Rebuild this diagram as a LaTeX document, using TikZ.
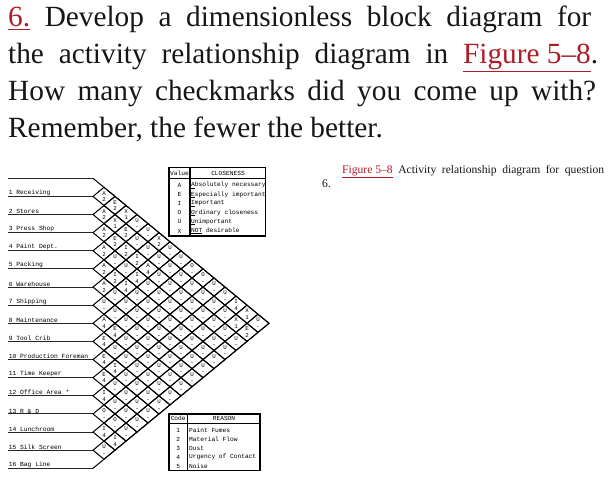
\documentclass[tikz,border=0pt]{standalone}
\usepackage{fontspec}
\setmainfont{Liberation Serif}
\setmonofont{Liberation Mono}
\usetikzlibrary{positioning}

\definecolor{linkred}{RGB}{172,28,36}
\definecolor{inkblack}{RGB}{22,22,22}

% geometry of the chart (1 unit = 1 px)
\def\xleft{93}     % left vertices of the diamonds
\def\ytop{178.3}   % top line of the chart
\def\dx{11}        % half width of a diamond
\def\dy{9.0625}    % half height of a diamond

% one diamond: row, column, closeness, reason
\newcommand{\reldiamond}[4]{%
  \pgfmathsetmacro\cx{\xleft+\dx*#2}
  \pgfmathsetmacro\cy{\ytop+\dy*(2*#1+#2-1)}
  \draw[grid] (\cx-\dx,\cy) -- (\cx,\cy-\dy) -- (\cx+\dx,\cy) -- (\cx,\cy+\dy) -- cycle;
  \node[rel] (rel-#1-#2) at (\cx,\cy) {#3\\#4};
}

\begin{document}
\begin{tikzpicture}[x=1pt,y=-1pt,
  title/.style={anchor=base west, inner sep=0pt, text=inkblack, font=\fontsize{29.3}{35}\selectfont},
  grid/.style={draw=black, line width=1pt, line join=miter},
  deptline/.style={draw=black!85, line width=0.9pt},
  dept/.style={anchor=south west, inner sep=0.6pt, font=\ttfamily\fontsize{6.3}{6.3}\selectfont},
  rel/.style={align=center, inner sep=0pt, font=\ttfamily\fontsize{5.8}{6.6}\selectfont},
  legend/.style={draw=black, line width=1.1pt},
  legtext/.style={inner sep=0pt, font=\ttfamily\fontsize{6.2}{6.2}\selectfont},
  caption/.style={anchor=base west, inner sep=0pt, text=inkblack, font=\fontsize{11.6}{13}\selectfont},
]
\useasboundingbox (0,0) rectangle (609,476);

% --- question text ---
\node[title] (q1) at (8,27) {\makebox[583pt][s]{\textcolor{linkred}{\underline{6.}} Develop a dimensionless block diagram for}};
\node[title] (q2) at (8,63.5) {\makebox[590pt][s]{the activity relationship diagram in \textcolor{linkred}{\underline{Figure 5–8}}.}};
\node[title] (q3) at (8,100) {\makebox[588pt][s]{How many checkmarks did you come up with?}};
\node[title] (q4) at (8,137) {Remember, the fewer the better.};

% caption on the right
\node[caption] (cap) at (342,173)
  {\makebox[262pt][s]{\textcolor{linkred}{\underline{Figure 5–8}} Activity relationship diagram for question}};
\node[caption] (capnum) at (322,187) {6.};

% --- department lines and names ---
\foreach \k in {0,...,16} {
  \coordinate (l\k) at (8,\ytop+2*\dy*\k);
  \coordinate (b\k) at (\xleft,\ytop+2*\dy*\k);
  \draw[deptline] (l\k) -- (b\k);
}
\foreach \k/\name in {1/1 Receiving, 2/2 Stores, 3/3 Press Shop, 4/4 Paint Dept.,
    5/5 Packing, 6/6 Warehouse, 7/7 Shipping, 8/8 Maintenance, 9/9 Tool Crib,
    10/10 Production Foreman, 11/11 Time Keeper, 12/12 Office Area *, 13/13 R \& D,
    14/14 Lunchroom, 15/15 Silk Screen, 16/16 Bag Line}
  \node[dept] (dept\k) at (l\k) {\name};

% --- outline of the triangle ---
\coordinate (tip) at (\xleft+16*\dx,\ytop+16*\dy);
\draw[grid] (b0) -- (tip) -- (b16);

% --- relationship diamonds, one row per department ---
\foreach [count=\d] \l/\r in {A/2,E/2,X/1,U/-,U/-,X/2,U/-,U/-,O/-,O/-,U/-,U/-,I/4,X/1,U/-} {\reldiamond{1}{\d}{\l}{\r}}
\foreach [count=\d] \l/\r in {A/2,X/1,E/2,U/-,U/-,U/-,U/-,U/-,U/-,U/-,U/-,U/-,X/1,E/2} {\reldiamond{2}{\d}{\l}{\r}}
\foreach [count=\d] \l/\r in {A/2,E/2,I/2,I/2,A/4,U/-,U/-,U/-,U/-,U/-,U/-,U/-,U/-} {\reldiamond{3}{\d}{\l}{\r}}
\foreach [count=\d] \l/\r in {A/2,U/-,U/-,I/4,U/-,U/-,U/-,U/-,U/-,U/-,U/-,U/-} {\reldiamond{4}{\d}{\l}{\r}}
\foreach [count=\d] \l/\r in {A/2,I/2,I/4,U/-,U/-,U/-,U/-,U/-,U/-,U/-,U/-} {\reldiamond{5}{\d}{\l}{\r}}
\foreach [count=\d] \l/\r in {A/2,U/-,U/-,U/-,U/-,U/-,U/-,U/-,U/-,U/-} {\reldiamond{6}{\d}{\l}{\r}}
\foreach [count=\d] \l/\r in {U/-,U/-,U/-,U/-,U/-,U/-,U/-,U/-,U/-} {\reldiamond{7}{\d}{\l}{\r}}
\foreach [count=\d] \l/\r in {A/4,E/4,U/-,U/-,U/-,U/-,U/-,U/-} {\reldiamond{8}{\d}{\l}{\r}}
\foreach [count=\d] \l/\r in {E/4,U/-,U/-,U/-,U/-,U/-,U/-} {\reldiamond{9}{\d}{\l}{\r}}
\foreach [count=\d] \l/\r in {E/4,I/4,U/-,U/-,U/-,U/-} {\reldiamond{10}{\d}{\l}{\r}}
\foreach [count=\d] \l/\r in {E/4,U/-,U/-,U/-,U/-} {\reldiamond{11}{\d}{\l}{\r}}
\foreach [count=\d] \l/\r in {I/4,U/-,U/-,U/-} {\reldiamond{12}{\d}{\l}{\r}}
\foreach [count=\d] \l/\r in {O/-,O/-,U/-} {\reldiamond{13}{\d}{\l}{\r}}
\foreach [count=\d] \l/\r in {I/4,I/4} {\reldiamond{14}{\d}{\l}{\r}}
\foreach [count=\d] \l/\r in {U/-} {\reldiamond{15}{\d}{\l}{\r}}

% --- closeness legend ---
\draw[legend] (169,167.3) rectangle (265.7,236);
\draw[legend] (169,178.3) -- (265.7,178.3);
\draw[legend] (190,167.3) -- (190,236);
\node[legtext] (valhead) at (179.5,173) {Value};
\node[legtext] (closehead) at (228,173) {CLOSENESS};
\foreach \k/\v/\txt in {0/A/\underline{A}bsolutely necessary, 1/E/\underline{E}specially important,
    2/I/\underline{I}mportant, 3/O/\underline{O}rdinary closeness, 4/U/\underline{U}nimportant,
    5/X/\underline{NOT} desirable} {
  \node[legtext] (val\k) at (179.5,185.7+9.06*\k) {\v};
  \node[legtext, anchor=west] (close\k) at (191,185.7+9.06*\k) {\txt};
}

% --- reason legend ---
\draw[legend] (169,414) rectangle (260,470.7);
\draw[legend] (169,423.3) -- (260,423.3);
\draw[legend] (187.3,414) -- (187.3,470.7);
\node[legtext] (codehead) at (178.2,418.6) {Code};
\node[legtext] (reasonhead) at (224,418.6) {REASON};
\foreach \k/\txt in {1/Paint Fumes, 2/Material Flow, 3/Dust, 4/Urgency of Contact, 5/Noise} {
  \node[legtext] (code\k) at (178.2,430+9*\k-9) {\k};
  \node[legtext, anchor=west] (reason\k) at (189,430+9*\k-9) {\txt};
}

\end{tikzpicture}
\end{document}
